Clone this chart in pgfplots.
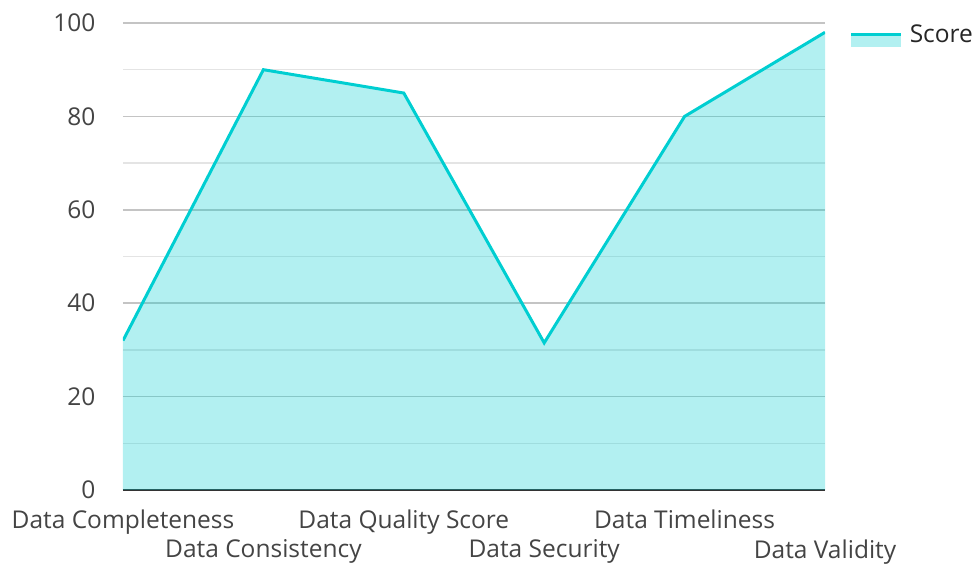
\documentclass[border=0pt]{standalone}
\usepackage{fontspec}
\setmainfont{Open Sans}
\usepackage{pgfplots}
\pgfplotsset{compat=1.18}
\definecolor{turq}{RGB}{0,206,209}
\definecolor{majgrid}{RGB}{196,196,196}
\definecolor{mingrid}{RGB}{228,228,228}
\definecolor{lbl}{RGB}{68,68,68}
\begin{document}
\begin{tikzpicture}
\begin{axis}[
  scale only axis,
  width=702bp, height=467bp,
  xmin=0, xmax=5, ymin=0, ymax=100,
  axis x line*=bottom, axis y line*=left,
  y axis line style={draw=none},
  x axis line style={-, draw=black!80, line width=2bp},
  xtick={0,2,4},
  xticklabels={Data Completeness, Data Quality Score, Data Timeliness},
  extra x ticks={1,3,5},
  extra x tick labels={Data Consistency, Data Security, Data Validity},
  extra x tick style={grid=none, tick label style={yshift=-30bp}},
  ytick={0,20,...,100},
  minor ytick={10,30,...,90},
  ymajorgrids, yminorgrids,
  major grid style={majgrid, line width=1.5bp},
  minor grid style={mingrid, line width=1.5bp},
  major tick length=0pt, minor tick length=0pt,
  tick label style={font=\fontsize{24.5bp}{29bp}\selectfont, text=lbl},
  x tick label style={yshift=-16bp},
  y tick label style={xshift=-24bp},
  /pgf/number format/assume math mode=true,
  legend style={draw=none, fill=none, at={(1.035,1.0)}, anchor=north west,
    font=\fontsize{24.5bp}{29bp}\selectfont, text=black!85, inner sep=0pt},
  legend cell align=left,
  legend image code/.code={
    \path[draw=none, fill=turq, fill opacity=0.3] (0bp,-12bp) rectangle (50bp,0bp);
    \path[draw=turq, line width=3bp, fill=none] (0bp,0bp) -- (50bp,0bp);
  },
]
\addplot[draw=none, fill=turq, fill opacity=0.3, forget plot]
  coordinates {(0,32) (1,90) (2,85) (3,31.5) (4,80) (5,98)} \closedcycle;
\addplot[turq, line width=3bp]
  coordinates {(0,32) (1,90) (2,85) (3,31.5) (4,80) (5,98)};
\addlegendentry{\hspace{5bp}Score}
\coordinate (bl) at (rel axis cs:-0.17521,-0.15846);
\coordinate (tr) at (rel axis cs:1.21368,1.04925);
\end{axis}
\pgfresetboundingbox
\path[use as bounding box] (bl) rectangle (tr);
\end{tikzpicture}
\end{document}
